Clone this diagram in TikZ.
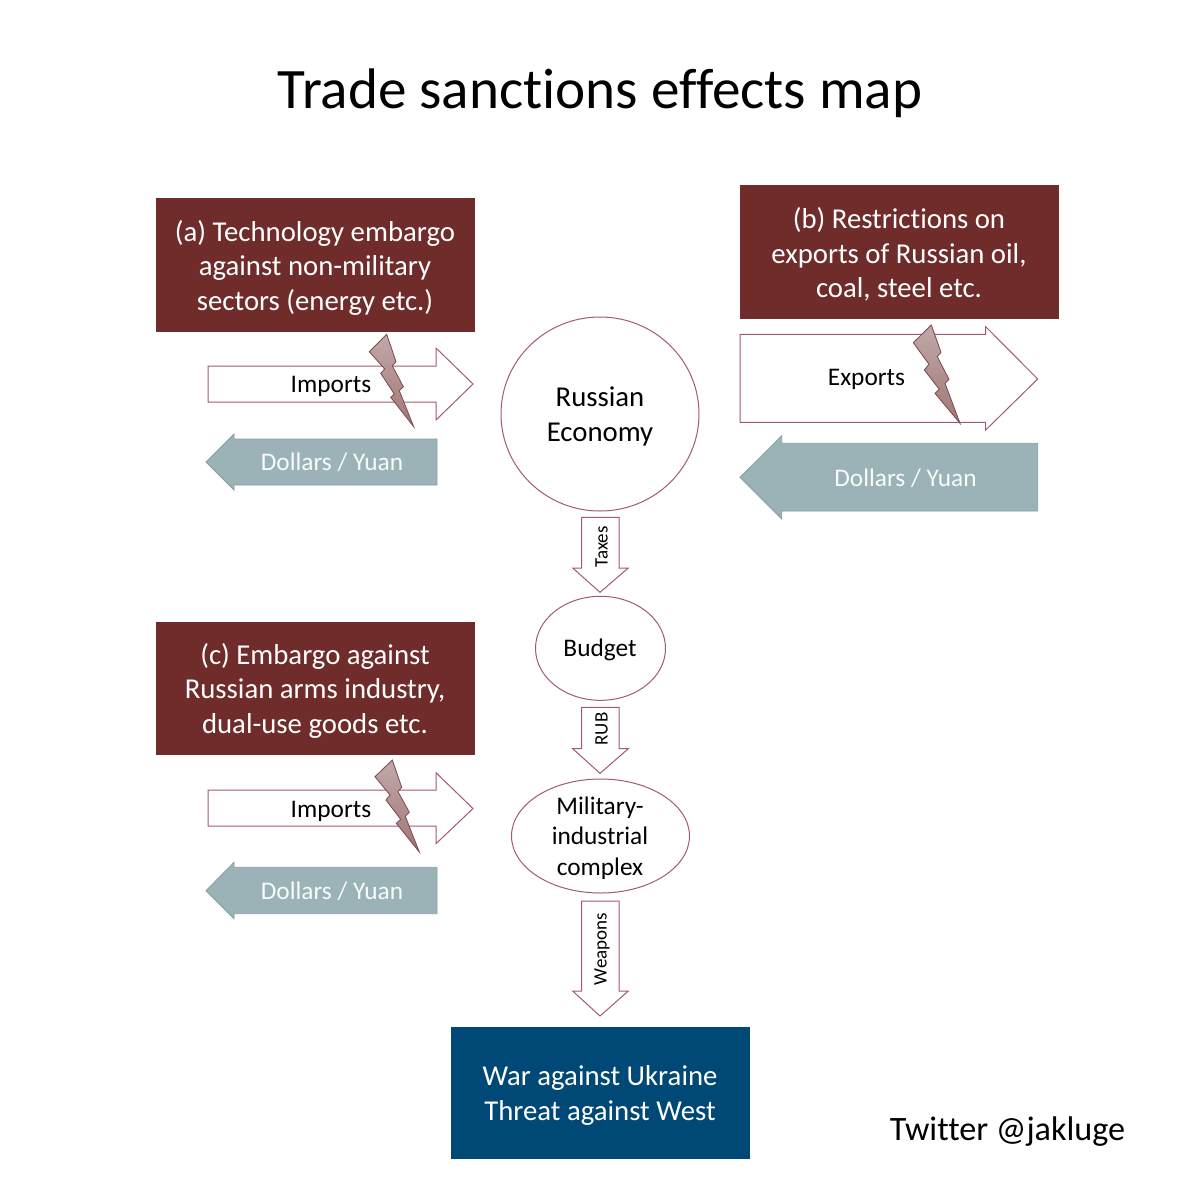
\documentclass[tikz,border=0pt]{standalone}
\usepackage{fontspec}
\setmainfont[Ligatures=NoCommon]{Carlito}
\usetikzlibrary{shapes.geometric}
\definecolor{boxred}{HTML}{6F2C2B}
\definecolor{navy}{HTML}{004876}
\definecolor{teal1}{HTML}{9BB3B7}
\definecolor{teal2}{HTML}{84A0A5}
\definecolor{plum}{HTML}{A05A78}
\definecolor{boltline}{HTML}{7D4A52}
\tikzset{
  txt/.style={font=\fontsize{17.25}{20.7}\selectfont,align=center,inner sep=0pt,text=black},
  small/.style={font=\fontsize{15.2}{18.2}\selectfont,align=center,inner sep=0pt,text=black},
  tiny/.style={font=\fontsize{11.4}{13}\selectfont,inner sep=0pt,text=black,rotate=90},
  redbox/.style={fill=boxred},
  bluebox/.style={fill=navy},
  hollow/.style={draw=plum,fill=white,line width=0.6pt,line join=miter},
  tealarrow/.style={draw=teal2,fill=teal1,line width=0.5pt},
  bolt/.style={draw=boltline,line width=0.5pt,line join=miter,top color=black!10!boxred!40,bottom color=boxred!65},
  ring/.style={draw=plum,fill=white,line width=0.6pt},
}
\begin{document}
\begin{tikzpicture}[x=0.6pt,y=-0.6pt]
\useasboundingbox (0,0) rectangle (1200,1200);
% title
\node[inner sep=0pt,font=\fontsize{34.3}{40}\selectfont] (title) at (600,93.5) {Trade sanctions effects map};
% boxes
\path[redbox] (156,198) rectangle (475,332);
\path[redbox] (740,185) rectangle (1059,319);
\path[redbox] (156,622) rectangle (475,755);
\path[bluebox] (451,1027) rectangle (750,1159);
\node[txt,text=white] (a) at (315,267.5) {(a) Technology embargo\\against non-military\\sectors (energy etc.)};
\node[txt,text=white] (b) at (899,254.5) {(b) Restrictions on\\exports of Russian oil,\\coal, steel etc.};
\node[txt,text=white] (c) at (315,690.5) {(c) Embargo against\\Russian arms industry,\\dual-use goods etc.};
\node[txt,text=white] (war) at (600,1095.5) {War against Ukraine\\Threat against West};
% ellipses
\path[ring] (600,414) ellipse [x radius=99,y radius=97];
\path[ring] (600.5,648.3) ellipse [x radius=65,y radius=52];
\path[ring] (600.5,836) ellipse [x radius=89,y radius=57];
\node[txt] (econ) at (600,416.5) {Russian\\Economy};
\node[small] (budget) at (600,650) {Budget};
\node[small] (mil) at (600,838) {Military-\\industrial\\complex};
% hollow arrows horizontal
\path[hollow] (208,366) -- (436,366) -- (436,348) -- (473,384) -- (436,420) -- (436,402) -- (208,402) -- cycle;
\path[hollow] (208,790) -- (436,790) -- (436,772.7) -- (473,808.5) -- (436,843.7) -- (436,826) -- (208,826) -- cycle;
\path[hollow] (740,334.3) -- (985.7,334.3) -- (985.7,326.7) -- (1037.7,379) -- (985.7,430) -- (985.7,422.3) -- (740,422.3) -- cycle;
\node[small] (imp1) at (331,386.5) {Imports};
\node[small] (imp2) at (331,811) {Imports};
\node[small] (exp) at (866.5,379.5) {Exports};
% teal arrows
\path[tealarrow] (437,439) -- (234,439) -- (234,434) -- (206,462) -- (234,490) -- (234,485) -- (437,485) -- cycle;
\path[tealarrow] (437,867.3) -- (234,867.3) -- (234,862.3) -- (206,890.7) -- (234,918.7) -- (234,913.7) -- (437,913.7) -- cycle;
\path[tealarrow] (1037.7,443.3) -- (781.7,443.3) -- (781.7,435.7) -- (740,477.3) -- (781.7,519) -- (781.7,511) -- (1037.7,511) -- cycle;
\node[small,text=white!95!teal1] (dol1) at (332,462.5) {Dollars / Yuan};
\node[small,text=white!95!teal1] (dol2) at (332,891) {Dollars / Yuan};
\node[small,text=white!95!teal1] (dol3) at (905.5,478) {Dollars / Yuan};
% vertical arrows
\path[hollow] (581.7,517.3) -- (619,517.3) -- (619,568) -- (628.3,568) -- (600,592.3) -- (572.7,568) -- (581.7,568) -- cycle;
\path[hollow] (581.7,707.3) -- (619,707.3) -- (619,748.7) -- (628.3,748.7) -- (600,773.3) -- (572.7,748.7) -- (581.7,748.7) -- cycle;
\path[hollow] (581.7,901) -- (619,901) -- (619,991) -- (628.3,991) -- (600,1016) -- (572.7,991) -- (581.7,991) -- cycle;
\node[tiny] (tax) at (601.5,547) {Taxes};
\node[tiny] (rub) at (601.5,729) {RUB};
\node[tiny] (wea) at (602,949) {Weapons};
% bolts
\path[bolt] (386.7,334.3) -- (396,361.7) -- (392.3,365.7) -- (403.3,386.7) -- (399.3,390.7) -- (413.7,426.7) -- (390.7,397.3) -- (394.3,394) -- (380.7,373.3) -- (384.7,369) -- (369.3,351.7) -- cycle;
\path[bolt] (392.3,760) -- (401.7,787.3) -- (398,791.7) -- (409.3,812.3) -- (405.3,816.3) -- (419.3,852) -- (396.3,823.3) -- (400.7,819.3) -- (386,800) -- (390,795) -- (375,776.7) -- cycle;
\path[bolt] (931.3,325) -- (941,352.3) -- (937.3,356.7) -- (949,379.3) -- (945,383.3) -- (960,423.3) -- (935,393.3) -- (939.3,389.3) -- (924.3,370) -- (929,364.3) -- (913.3,342.7) -- cycle;
% credit
\node[inner sep=0pt,font=\fontsize{20.5}{24}\selectfont] (tw) at (1007.5,1132) {Twitter @jakluge};
\end{tikzpicture}
\end{document}
